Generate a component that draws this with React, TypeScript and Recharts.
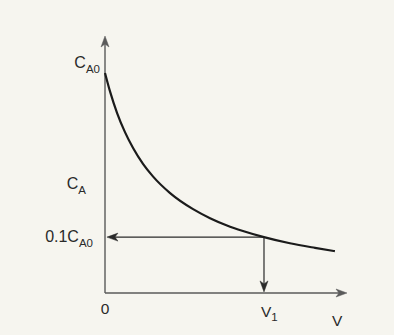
import { Line, LineChart, ReferenceLine, XAxis, YAxis } from "recharts"

// V (fraction of axis length) and C_A / C_A0
const vPos = [0, 0.021, 0.05, 0.083, 0.116, 0.157, 0.198, 0.269, 0.364, 0.434, 0.504, 0.57, 0.657, 0.764, 0.868, 0.95]
const caRatio = [1.0, 0.915, 0.818, 0.73, 0.659, 0.587, 0.53, 0.454, 0.381, 0.34, 0.307, 0.282, 0.254, 0.226, 0.205, 0.19]

// marked point on the curve: 0.1 C_A0 reached at V1
const v1 = 0.657
const caAtV1 = 0.254

const yTicks = [1, 0.495, caAtV1]
const yTickLabels = [
  { main: "C", sub: "A0" },
  { main: "C", sub: "A" },
  { main: "0.1C", sub: "A0" },
]
const xTicks = [0, v1, 0.959]
const xTickLabels = [
  { main: "0", sub: "" },
  { main: "V", sub: "1" },
  { main: "V", sub: "" },
]

const data = vPos.map((v, i) => ({ v, ca: caRatio[i] }))

const ink = "#2a2a2a"
const axisInk = "#5a5a5a"
const font = "'Liberation Sans', Arial, sans-serif"

// line + barbed arrowhead at (x2, y2)
const arrow = (color: string, width: number) => (props: any) => {
  const { x1, y1, x2, y2 } = props
  const a = Math.atan2(y2 - y1, x2 - x1)
  const ux = Math.cos(a)
  const uy = Math.sin(a)
  const len = 11
  const half = 4
  const notch = 8
  const bx = x2 - ux * len
  const by = y2 - uy * len
  const nx = x2 - ux * notch
  const ny = y2 - uy * notch
  const d = `M${x2},${y2} L${bx - uy * half},${by + ux * half} L${nx},${ny} L${bx + uy * half},${by - ux * half} Z`
  return (
    <g>
      <line x1={x1} y1={y1} x2={nx} y2={ny} stroke={color} strokeWidth={width} />
      <path d={d} fill={color} stroke={color} strokeWidth={0.5} />
    </g>
  )
}

const yDx = [0, -14, -7]
const yDy = [-5, 5, 5]
const YTick = (props: any) => {
  const { x, y, index } = props
  const lab = yTickLabels[index]
  return (
    <text x={x + yDx[index]} y={y + yDy[index]} textAnchor="end" fill={ink} fontFamily={font} fontSize={16}>
      <tspan>{lab.main}</tspan>
      <tspan fontSize={11.5} dy={5}>{lab.sub}</tspan>
    </text>
  )
}

const xDx = [0, -3, 0]
const xDy = [21, 24, 33]
const XTick = (props: any) => {
  const { x, y, index } = props
  const lab = xTickLabels[index]
  return (
    <text
      x={x + xDx[index]}
      y={y + xDy[index]}
      textAnchor={index === 1 ? "start" : "middle"}
      fill={ink}
      fontFamily={font}
      fontSize={15.5}
    >
      <tspan>{lab.main}</tspan>
      {lab.sub && <tspan fontSize={11.5} dy={4}>{lab.sub}</tspan>}
    </text>
  )
}

export default function App() {
  return (
    <div style={{ position: "absolute", left: 0, top: 0, width: 394, height: 335, background: "#f6f5ef" }}>
      <LineChart width={394} height={335} data={data} margin={{ top: 36, right: 47, bottom: 2, left: 45 }}>
        <XAxis
          dataKey="v"
          type="number"
          domain={[0, 1]}
          ticks={xTicks}
          tick={<XTick />}
          axisLine={false}
          tickLine={false}
          tickSize={0}
          tickMargin={0}
          height={40}
          interval={0}
        />
        <YAxis
          type="number"
          domain={[0, 1.168]}
          ticks={yTicks}
          tick={<YTick />}
          axisLine={false}
          tickLine={false}
          tickSize={0}
          tickMargin={5}
          width={60}
          interval={0}
        />
        <ReferenceLine segment={[{ x: 0, y: 0 }, { x: 0, y: 1.168 }]} ifOverflow="visible" shape={arrow(axisInk, 1.4)} />
        <ReferenceLine segment={[{ x: 0, y: 0 }, { x: 1, y: 0 }]} ifOverflow="visible" shape={arrow(axisInk, 1.4)} />
        <ReferenceLine segment={[{ x: v1, y: caAtV1 }, { x: 0.008, y: caAtV1 }]} ifOverflow="visible" shape={arrow(ink, 1.2)} />
        <ReferenceLine segment={[{ x: v1, y: caAtV1 }, { x: v1, y: 0.005 }]} ifOverflow="visible" shape={arrow(ink, 1.2)} />
        <Line
          dataKey="ca"
          type="monotone"
          stroke="#1b1b1b"
          strokeWidth={2.2}
          dot={false}
          isAnimationActive={false}
        />
      </LineChart>
    </div>
  )
}
